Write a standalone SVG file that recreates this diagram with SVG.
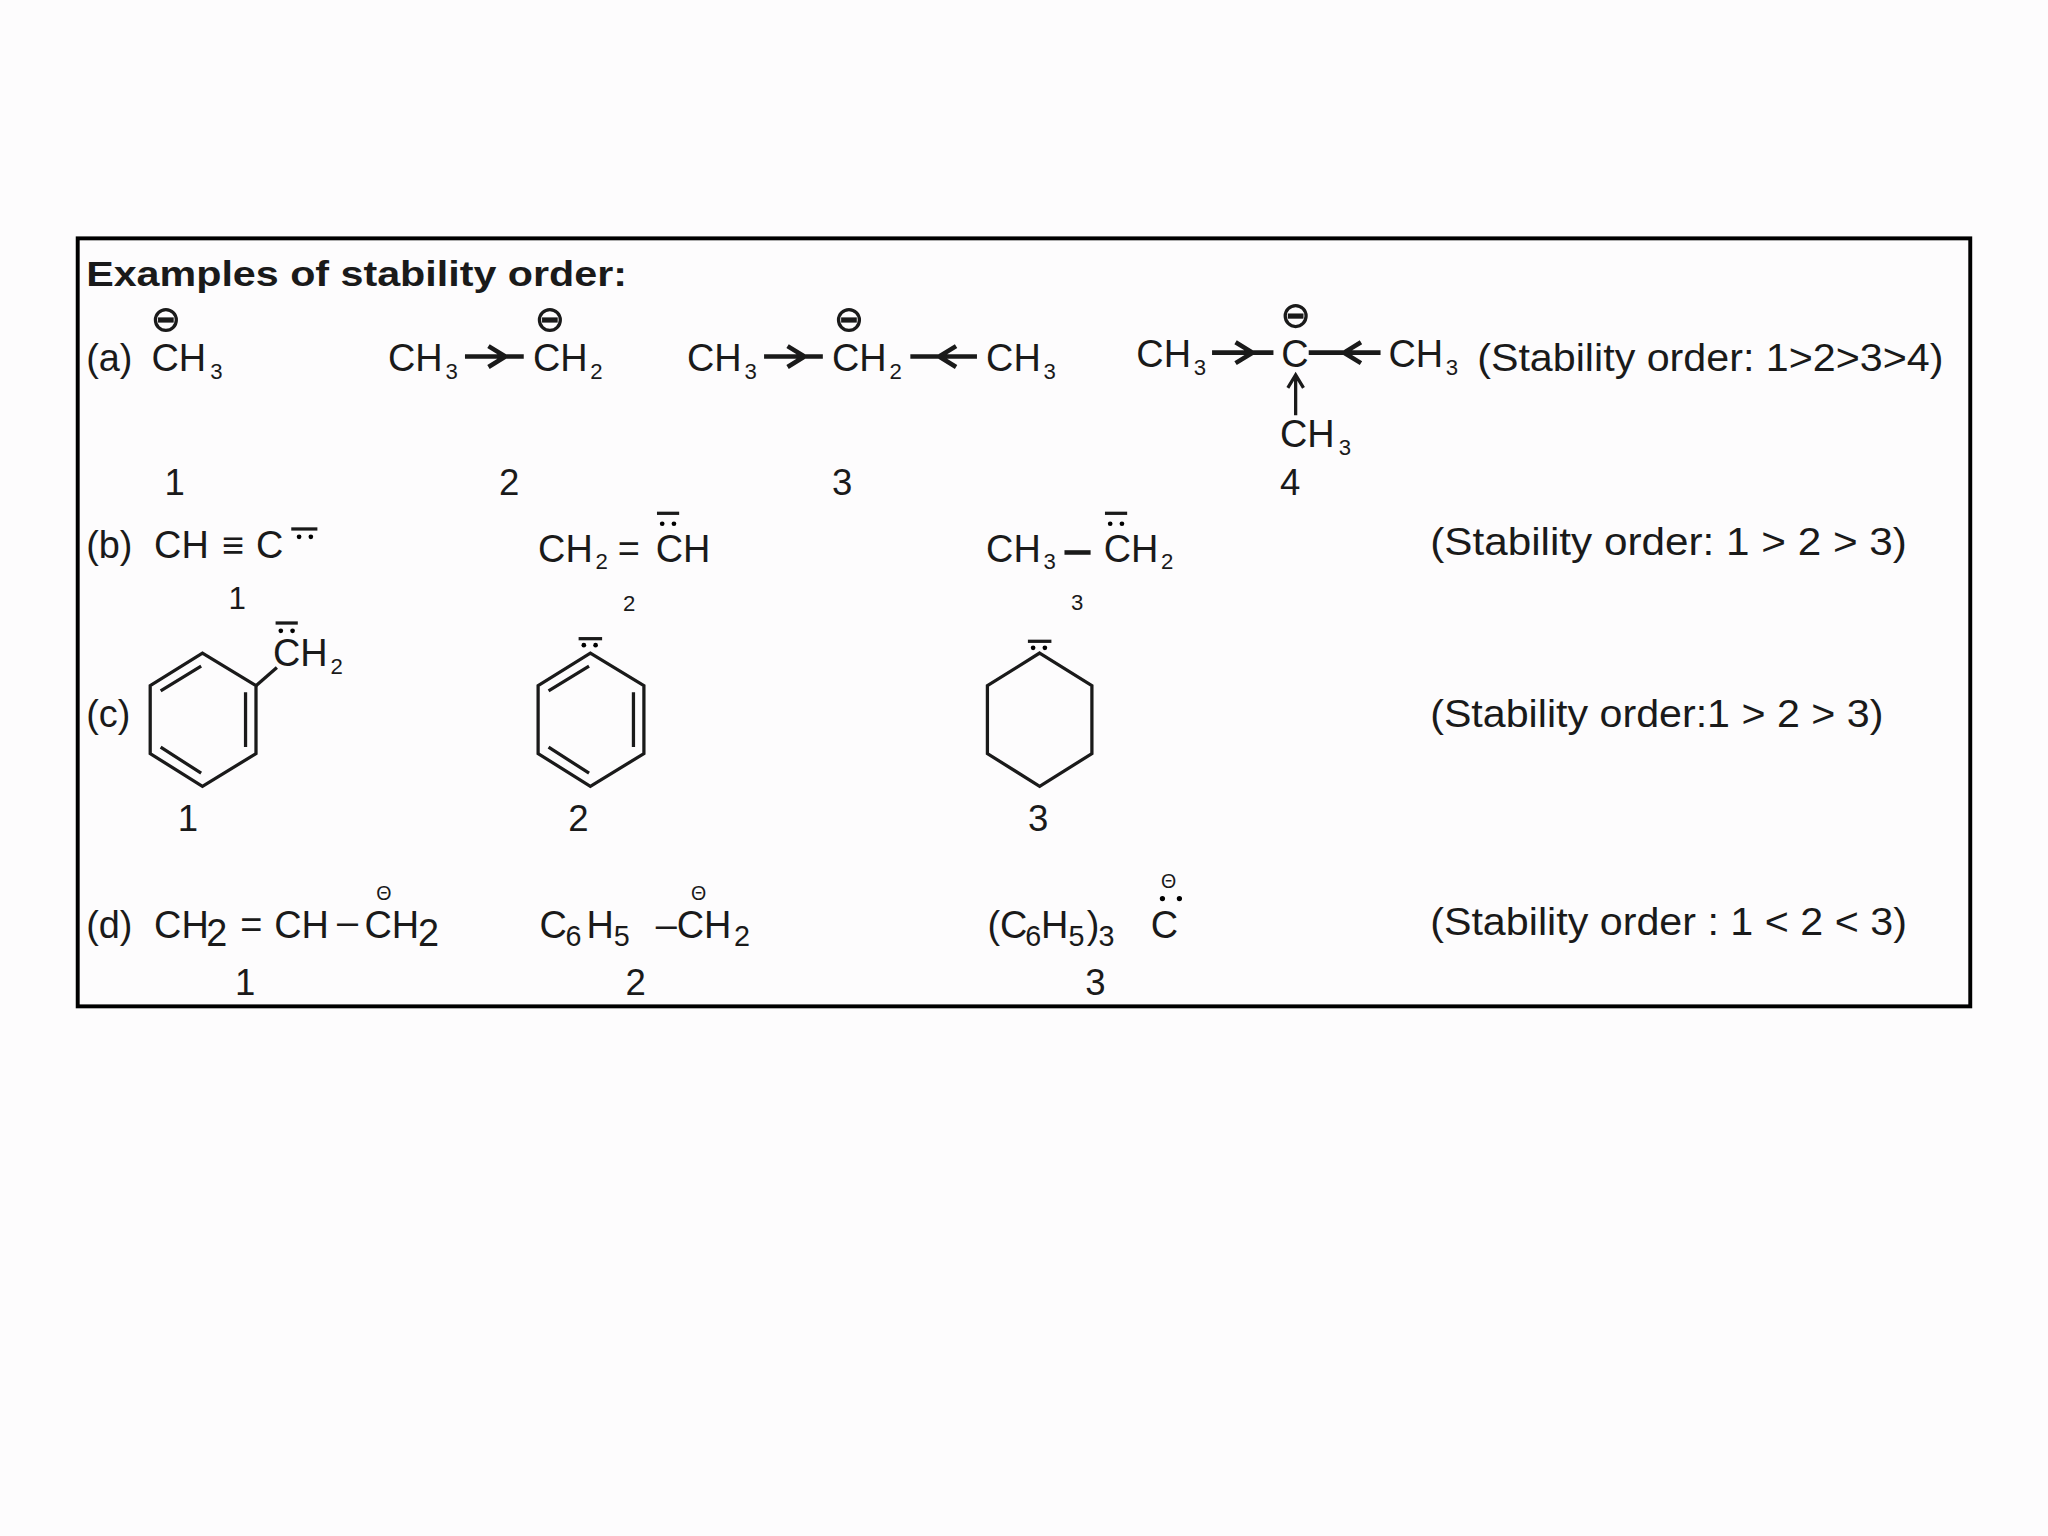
<svg xmlns="http://www.w3.org/2000/svg" width="2048" height="1536" viewBox="0 0 2048 1536">
<style>
text{font-family:"Liberation Sans",Arial,sans-serif;fill:#1a1a1a}
.t{font-size:29px}
.s{font-size:17px}
.n{font-size:28px}
.m{font-size:24px}
.ln{stroke:#1a1a1a;stroke-width:2.5;fill:none}
.th{stroke:#1a1a1a;stroke-width:3.5;fill:none}
</style>
<rect width="2048" height="1536" fill="#fdfcfd"/>
<g transform="scale(1.3061)">
<rect x="59.5" y="182.5" width="1449" height="588" fill="none" stroke="#000" stroke-width="3"/>
<text x="66" y="219" font-size="27" font-weight="bold" textLength="414" lengthAdjust="spacingAndGlyphs">Examples of stability order:</text>

<defs>
<g id="neg"><circle r="8" class="ln" stroke-width="3"/><line x1="-6" y1="0" x2="6" y2="0" stroke="#1a1a1a" stroke-width="4"/></g>
</defs>

<g id="row-a">
<text class="t" x="66" y="284">(a)</text>
<use href="#neg" x="127" y="245"/>
<text class="t" x="116" y="284">CH</text><text class="s" x="161" y="290">3</text>

<use href="#neg" x="421" y="245"/>
<text class="t" x="297" y="284">CH</text><text class="s" x="341" y="290">3</text>
<path class="th" d="M356,273 H401 M374,265 L387,273 L374,281"/>
<text class="t" x="408" y="284">CH</text><text class="s" x="452" y="290">2</text>

<use href="#neg" x="650" y="245"/>
<text class="t" x="526" y="284">CH</text><text class="s" x="570" y="290">3</text>
<path class="th" d="M585,273 H630 M603,265 L616,273 L603,281"/>
<text class="t" x="637" y="284">CH</text><text class="s" x="681" y="290">2</text>
<path class="th" d="M697,273 H748 M732,265 L719,273 L732,281"/>
<text class="t" x="755" y="284">CH</text><text class="s" x="799" y="290">3</text>

<use href="#neg" x="992" y="242"/>
<text class="t" x="870" y="281">CH</text><text class="s" x="914" y="287">3</text>
<path class="th" d="M928,270 H975 M946,262 L959,270 L946,278"/>
<text class="t" x="981" y="281">C</text>
<path class="th" d="M1002,270 H1057 M1042,262 L1029,270 L1042,278"/>
<text class="t" x="1063" y="281">CH</text><text class="s" x="1107" y="287">3</text>
<path class="ln" d="M992,318 V287 M986,297 L992,287 L998,297"/>
<text class="t" x="980" y="342">CH</text><text class="s" x="1025" y="348">3</text>
<text class="t" x="1131" y="284" textLength="357" lengthAdjust="spacingAndGlyphs">(Stability order: 1&gt;2&gt;3&gt;4)</text>
<text class="n" x="126" y="379">1</text><text class="n" x="382" y="379">2</text><text class="n" x="637" y="379">3</text><text class="n" x="980" y="379">4</text>
</g>

<g id="row-b">
<text class="t" x="66" y="427">(b)</text>
<text class="t" x="118" y="427">CH</text><text class="t" x="170" y="427">≡</text><text class="t" x="196" y="427">C</text>
<path class="ln" d="M223,405 H243"/><circle cx="229" cy="411" r="1.8"/><circle cx="238" cy="411" r="1.8"/>
<text class="m" x="175" y="466">1</text>

<text class="t" x="412" y="430">CH</text><text class="s" x="456" y="436">2</text>
<text class="t" x="473" y="430">=</text>
<text class="t" x="502" y="430">CH</text>
<path class="ln" d="M503,393 H520"/><circle cx="507" cy="401" r="1.8"/><circle cx="516" cy="401" r="1.8"/>
<text class="s" x="477" y="468" font-size="22">2</text>

<text class="t" x="755" y="430">CH</text><text class="s" x="799" y="436">3</text>
<path class="th" d="M815,423 H835"/>
<text class="t" x="845" y="430">CH</text><text class="s" x="889" y="436">2</text>
<path class="ln" d="M846,393 H863"/><circle cx="850" cy="401" r="1.8"/><circle cx="859" cy="401" r="1.8"/>
<text class="s" x="820" y="467" font-size="22">3</text>
<text class="t" x="1095" y="425" textLength="365" lengthAdjust="spacingAndGlyphs">(Stability order:  1 &gt; 2 &gt; 3)</text>
</g>

<g id="row-c">
<text class="t" x="66" y="557">(c)</text>
<path class="ln" d="M155,500 L196,525 L196,577 L155,602 L115,577 L115,525 Z"/>
<path class="ln" d="M154,510 L123,529 M188,530 V572 M123,572 L154,592"/>
<path class="ln" d="M196,525 L212,511"/>
<text class="t" x="209" y="510">CH</text><text class="s" x="253" y="516">2</text>
<path class="ln" d="M211,477 H228"/><circle cx="215" cy="483" r="1.8"/><circle cx="224" cy="483" r="1.8"/>
<text class="n" x="136" y="636">1</text>

<path class="ln" d="M452,500 L493,525 L493,577 L452,602 L412,577 L412,525 Z"/>
<path class="ln" d="M451,510 L420,529 M485,530 V572 M420,572 L451,592"/>
<path class="ln" d="M443,489 H461"/><circle cx="447" cy="494" r="1.8"/><circle cx="456" cy="494" r="1.8"/>
<text class="n" x="435" y="636">2</text>

<path class="ln" d="M796,500 L836,525 L836,577 L796,602 L756,577 L756,525 Z"/>
<path class="ln" d="M787,491 H805"/><circle cx="791" cy="496" r="1.8"/><circle cx="800" cy="496" r="1.8"/>
<text class="n" x="787" y="636">3</text>
<text class="t" x="1095" y="557" textLength="347" lengthAdjust="spacingAndGlyphs">(Stability order:1 &gt; 2 &gt; 3)</text>
</g>

<g id="row-d">
<text class="t" x="66" y="718">(d)</text>
<text class="t" x="118" y="718">CH</text><text class="t" x="158" y="724" font-size="22">2</text>
<text class="t" x="184" y="718">=</text>
<text class="t" x="210" y="718">CH</text><text class="t" x="258" y="716">–</text>
<text class="t" x="279" y="718">CH</text><text class="t" x="320" y="724" font-size="22">2</text>
<text x="288" y="689" font-size="15">Θ</text>
<text class="n" x="180" y="762">1</text>

<text class="t" x="413" y="718">C</text><text x="433" y="724" font-size="22">6</text><text class="t" x="449" y="718">H</text><text x="470" y="724" font-size="22">5</text>
<text class="t" x="502" y="718">–CH</text><text x="562" y="724" font-size="22">2</text>
<text x="529" y="689" font-size="15">Θ</text>
<text class="n" x="479" y="762">2</text>

<text class="t" x="756" y="718">(C</text><text x="785" y="724" font-size="22">6</text><text class="t" x="797" y="718">H</text><text x="818" y="724" font-size="22">5</text><text class="t" x="832" y="718">)</text><text x="841" y="724" font-size="22">3</text>
<text class="t" x="881" y="718">C</text>
<text x="889" y="680" font-size="15">Θ</text>
<circle cx="890" cy="688" r="2"/><circle cx="903" cy="688" r="2"/>
<text class="n" x="831" y="762">3</text>
<text class="t" x="1095" y="716" textLength="365" lengthAdjust="spacingAndGlyphs">(Stability order : 1 &lt; 2 &lt; 3)</text>
</g>
</g>
</svg>
